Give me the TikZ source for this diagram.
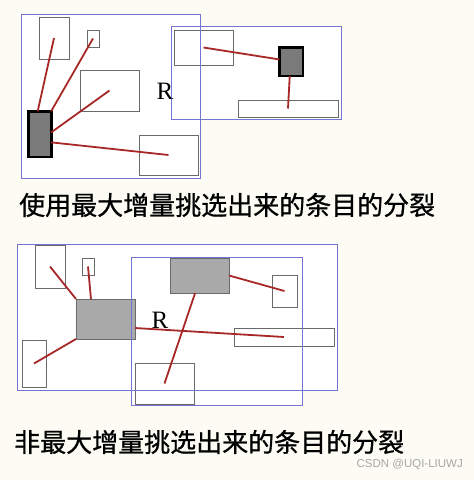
\documentclass[tikz,border=0pt]{standalone}
\usepackage{fontspec}
\setmainfont{Liberation Serif}
\newfontfamily\cjkfont[FakeBold=0.8]{Noto Sans CJK SC}
\newfontfamily\markfont{Liberation Sans}
\definecolor{bgcream}{HTML}{FDFCF4}
\definecolor{regionblue}{HTML}{7474D2}
\definecolor{boxgray}{HTML}{6A6A6A}
\definecolor{linkred}{HTML}{A82828}
\definecolor{seeddark}{HTML}{7A7A7A}
\definecolor{seedlight}{HTML}{A9A9A9}
\tikzset{
  regionfill/.style={fill=white, anchor=north west, inner sep=0pt, outer sep=0pt},
  regionline/.style={draw=regionblue, line width=0.9pt},
  entry/.style={draw=boxgray, line width=1pt, anchor=north west, inner sep=0pt, outer sep=0pt},
  seed/.style={entry, draw=black, line width=2.6pt, fill=seeddark},
  seedgray/.style={entry, fill=seedlight},
  link/.style={draw=linkred, line width=1.8pt},
  caption/.style={font=\cjkfont\fontsize{26}{30}\selectfont, anchor=west, inner sep=0pt},
  rlabel/.style={font=\fontsize{25}{25}\selectfont, inner sep=0pt}
}
\begin{document}
\begin{tikzpicture}[x=1pt, y=-1pt]
      \fill[bgcream] (0,0) rectangle (474,480);
      \useasboundingbox (0,0) rectangle (474,480);
      % Define nodes (upper split)
      \node[regionfill, minimum width=179, minimum height=164] (r1) at (21,14) {};
      \node[regionfill, minimum width=170, minimum height=93] (r2) at (171,26) {};
      \node[entry, minimum width=30, minimum height=42] (ta) at (39,17) {};
      \node[entry, minimum width=12, minimum height=17] (tb) at (87,30) {};
      \node[entry, minimum width=59, minimum height=41] (tc) at (80,70) {};
      \node[seed, minimum width=23, minimum height=45.6] (td) at (28.2,111.2) {};
      \node[entry, minimum width=59, minimum height=40] (te) at (139,135) {};
      \node[entry, minimum width=59, minimum height=35] (tf) at (174,30) {};
      \node[seed, minimum width=23.6, minimum height=28.6] (tg) at (279.2,47.2) {};
      \node[entry, minimum width=100, minimum height=17] (th) at (238,100) {};
      \draw[regionline] (r1.north west) rectangle (r1.south east);
      \draw[regionline] (r2.north west) rectangle (r2.south east);
      \node[rlabel] (tr) at (165,91) {R};
      % Connect nodes
      \draw[link] (td.95) -- (ta.center);
      \draw[link] (td.north east) -- (tb.center);
      \draw[link] (td.8) -- (tc.center);
      \draw[link] (td.-36) -- (te.center);
      \draw[link] (tg.170) -- (tf.center);
      \draw[link] (tg.-95) -- (th.center);
      \node[caption] (cap1) at (19,205) {使用最大增量挑选出来的条目的分裂};
      % Define nodes (lower split)
      \node[regionfill, minimum width=320, minimum height=146] (b1) at (17,244) {};
      \node[regionfill, minimum width=171, minimum height=148] (b2) at (131,257) {};
      \node[entry, minimum width=30, minimum height=43] (ba) at (35,245) {};
      \node[entry, minimum width=12, minimum height=17] (bb) at (82,258) {};
      \node[seedgray, minimum width=59, minimum height=40] (bc) at (76,299) {};
      \node[entry, minimum width=24, minimum height=47] (bd) at (22,340) {};
      \node[seedgray, minimum width=59, minimum height=35] (be) at (170,258) {};
      \node[entry, minimum width=59, minimum height=41] (bf) at (135,363) {};
      \node[entry, minimum width=25, minimum height=32] (bg) at (272,275) {};
      \node[entry, minimum width=100, minimum height=18] (bh) at (234,328) {};
      \draw[regionline] (b1.north west) rectangle (b1.south east);
      \draw[regionline] (b2.north west) rectangle (b2.south east);
      \node[rlabel] (br) at (160,320) {R};
      % Connect nodes
      \draw[link] (bc.north west) -- (ba.center);
      \draw[link] (bc.126) -- (bb.center);
      \draw[link] (bc.south west) -- (bd.center);
      \draw[link] (bc.-17) -- (bh.center);
      \draw[link] (be.-104) -- (bf.center);
      \draw[link] (be.east) -- (bg.center);
      \node[caption] (cap2) at (14,442) {非最大增量挑选出来的条目的分裂};
      \node[font=\markfont\fontsize{11.5}{12}\selectfont, text=black!35, anchor=east, inner sep=0pt] (mark) at (463,464) {CSDN @UQI-LIUWJ};
    \end{tikzpicture}
\end{document}
